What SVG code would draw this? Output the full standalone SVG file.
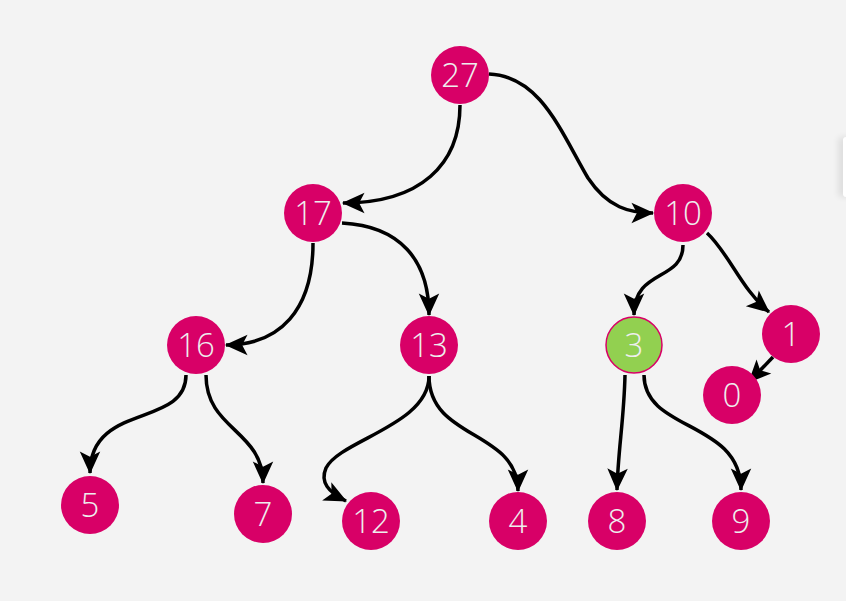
<svg xmlns="http://www.w3.org/2000/svg" width="846" height="601" viewBox="0 0 846 601">
<style>
.n{fill:#d80067}
.g{fill:#92d050;stroke:#d80067;stroke-width:1.5}
.t{font-family:"Open Sans","Noto Sans",sans-serif;font-size:33px;font-weight:300;fill:#eeeeee;text-anchor:middle}
.e{fill:none;stroke:#000;stroke-width:3.5;marker-end:url(#a)}
</style>
<defs>
<marker id="a" markerUnits="userSpaceOnUse" markerWidth="28" markerHeight="28" viewBox="-24 -12 26 24" refX="0" refY="0" orient="auto">
<path d="M1,0 L-20,-9.5 L-15,0 L-20,9.5 Z" fill="#000"/>
</marker>
<filter id="sh" x="-200%" y="-50%" width="400%" height="200%"><feGaussianBlur stdDeviation="3"/></filter>
</defs>
<rect width="846" height="601" fill="#f3f3f3"/>
<rect x="838" y="137" width="14" height="60" rx="3" fill="#000" opacity="0.08" filter="url(#sh)"/>
<rect x="843" y="137" width="10" height="60" rx="3" fill="#fff"/>
<g id="connectors">
<path class="e" d="M460,105 C460,165 420,203 343,203"/>
<path class="e" d="M489,74 C540,76 560,130 588,178 C608,208 630,213 653,213"/>
<path class="e" d="M342,223 C400,226 429,260 429,315"/>
<path class="e" d="M313,243 C313,310 280,345 226,345"/>
<path class="e" d="M186,375 C186,428 90,402 90,473"/>
<path class="e" d="M206,375 C206,430 263,430 263,483"/>
<path class="e" d="M429,376 C429,425 340,440 326,468 C320,482 328,492 346,501"/>
<path class="e" d="M429,376 C429,440 518,430 518,491"/>
<path class="e" d="M683,245 C683,282 634,268 634,315"/>
<path class="e" d="M707,233 C728,252 742,290 769,312"/>
<path class="e" d="M773,357 L749,382"/>
<path class="e" d="M625,375 C624,420 618,450 617,490"/>
<path class="e" d="M644,375 C644,432 741,420 741,490"/>
</g>
<g id="n27"><circle class="n" cx="460" cy="75" r="29"/><text class="t" x="460" y="87">27</text></g>
<g id="n17"><circle class="n" cx="313" cy="213" r="29"/><text class="t" x="313" y="225">17</text></g>
<g id="n10"><circle class="n" cx="683" cy="213" r="29"/><text class="t" x="683" y="225">10</text></g>
<g id="n16"><circle class="n" cx="196" cy="345" r="29"/><text class="t" x="196" y="357">16</text></g>
<g id="n13"><circle class="n" cx="429" cy="345" r="29"/><text class="t" x="429" y="357">13</text></g>
<g id="n3"><circle class="g" cx="634" cy="345" r="28"/><text class="t" x="634" y="357">3</text></g>
<g id="n1"><circle class="n" cx="791" cy="334" r="29"/><text class="t" x="791" y="346">1</text></g>
<g id="n0"><circle class="n" cx="732" cy="395" r="29"/><text class="t" x="732" y="407">0</text></g>
<g id="n5"><circle class="n" cx="90" cy="505" r="29"/><text class="t" x="90" y="517">5</text></g>
<g id="n7"><circle class="n" cx="263" cy="514" r="29"/><text class="t" x="263" y="526">7</text></g>
<g id="n12"><circle class="n" cx="371" cy="521" r="29"/><text class="t" x="371" y="533">12</text></g>
<g id="n4"><circle class="n" cx="518" cy="521" r="29"/><text class="t" x="518" y="533">4</text></g>
<g id="n8"><circle class="n" cx="617" cy="521" r="29"/><text class="t" x="617" y="533">8</text></g>
<g id="n9"><circle class="n" cx="741" cy="521" r="29"/><text class="t" x="741" y="533">9</text></g>
</svg>
